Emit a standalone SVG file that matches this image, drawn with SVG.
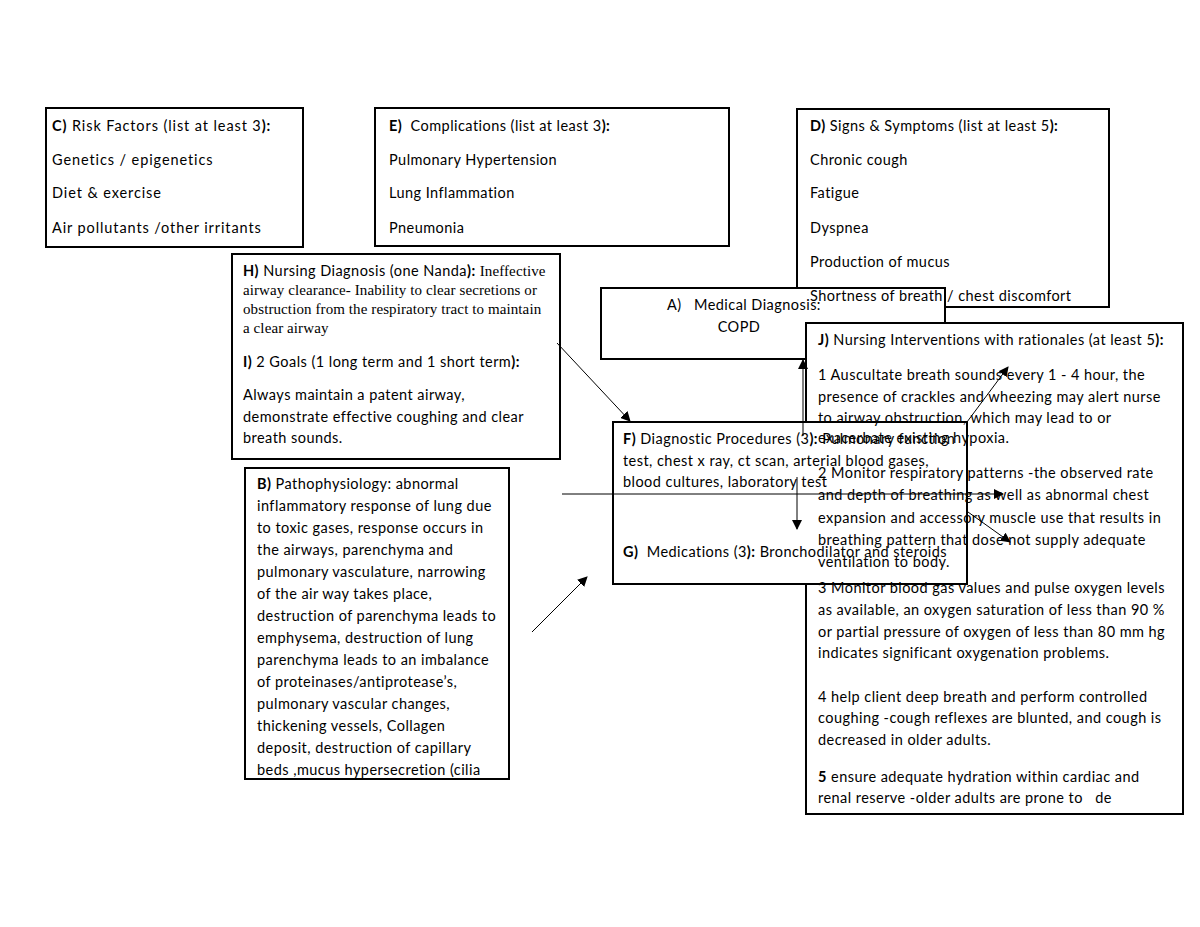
<svg xmlns="http://www.w3.org/2000/svg" width="1200" height="927" viewBox="0 0 1200 927">
<defs>
<style>
.box{fill:#fff;stroke:#000;stroke-width:2}
.t{font-family:Lato,"Liberation Sans",sans-serif;font-size:14.5px;letter-spacing:0.45px;fill:#000}
.w{letter-spacing:0.9px}
.s{font-family:"Liberation Serif",serif;font-size:15px;letter-spacing:0.1px}
.b{font-weight:bold}
.c{stroke:#000;stroke-width:1;fill:none}
</style>
<marker id="ah" viewBox="0 0 10 10" refX="9" refY="5" markerWidth="10" markerHeight="10" markerUnits="userSpaceOnUse" orient="auto">
<path d="M0,0 L10,5 L0,10 z" fill="#000"/>
</marker>
</defs>
<rect width="1200" height="927" fill="#fff"/>

<g id="C">
<rect class="box" x="46" y="108" width="257" height="139"/>
<text class="t w" x="52" y="131"><tspan class="b">C)</tspan> Risk Factors (list at least 3<tspan class="b">):</tspan></text>
<text class="t w" x="52" y="165">Genetics / epigenetics</text>
<text class="t w" x="52" y="198">Diet &amp; exercise</text>
<text class="t w" x="52" y="233">Air pollutants /other irritants</text>
</g>

<g id="E">
<rect class="box" x="375" y="108" width="354" height="138"/>
<text class="t" x="389" y="131"><tspan class="b">E)</tspan>&#160; Complications (list at least 3<tspan class="b">):</tspan></text>
<text class="t" x="389" y="165">Pulmonary Hypertension</text>
<text class="t" x="389" y="198">Lung Inflammation</text>
<text class="t" x="389" y="233">Pneumonia</text>
</g>

<g id="D">
<rect class="box" x="797" y="109" width="312" height="198"/>
</g>

<g id="A">
<rect class="box" x="601" y="288" width="344" height="71"/>
</g>

<g id="J">
<rect class="box" x="806" y="323" width="377" height="491"/>
</g>

<g id="F">
<rect class="box" x="613" y="422" width="354" height="162"/>
</g>

<g id="H">
<rect class="box" x="232" y="254" width="328" height="205"/>
<text class="t" x="243" y="276"><tspan class="b">H)</tspan> Nursing Diagnosis (one Nanda<tspan class="b">):</tspan> <tspan class="s">Ineffective</tspan></text>
<text class="t s" x="243" y="295">airway clearance- Inability to clear secretions or</text>
<text class="t s" x="243" y="314">obstruction from the respiratory tract to maintain</text>
<text class="t s" x="243" y="333">a clear airway</text>
<text class="t" x="243" y="367"><tspan class="b">I)</tspan> 2 Goals (1 long term and 1 short term<tspan class="b">):</tspan></text>
<text class="t" x="243" y="400">Always maintain a patent airway,</text>
<text class="t" x="243" y="422">demonstrate effective coughing and clear</text>
<text class="t" x="243" y="443">breath sounds.</text>
</g>

<g id="B">
<rect class="box" x="245" y="468" width="264" height="311"/>
<text class="t" x="257" y="489"><tspan class="b">B)</tspan> Pathophysiology: abnormal</text>
<text class="t" x="257" y="511">inflammatory response of lung due</text>
<text class="t" x="257" y="533">to toxic gases, response occurs in</text>
<text class="t" x="257" y="555">the airways, parenchyma and</text>
<text class="t" x="257" y="577">pulmonary vasculature, narrowing</text>
<text class="t" x="257" y="599">of the air way takes place,</text>
<text class="t" x="257" y="621">destruction of parenchyma leads to</text>
<text class="t" x="257" y="643">emphysema, destruction of lung</text>
<text class="t" x="257" y="665">parenchyma leads to an imbalance</text>
<text class="t" x="257" y="687">of proteinases/antiprotease’s,</text>
<text class="t" x="257" y="709">pulmonary vascular changes,</text>
<text class="t" x="257" y="731">thickening vessels, Collagen</text>
<text class="t" x="257" y="753">deposit, destruction of capillary</text>
<text class="t" x="257" y="775">beds ,mucus hypersecretion (cilia</text>
</g>

<g id="D-text">
<text class="t" x="810" y="131"><tspan class="b">D)</tspan> Signs &amp; Symptoms (list at least 5<tspan class="b">):</tspan></text>
<text class="t" x="810" y="165">Chronic cough</text>
<text class="t" x="810" y="198">Fatigue</text>
<text class="t" x="810" y="233">Dyspnea</text>
<text class="t" x="810" y="267">Production of mucus</text>
<text class="t" x="810" y="301">Shortness of breath / chest discomfort</text>
</g>

<g id="A-text">
<text class="t" x="667" y="310">A)</text>
<text class="t" x="694" y="310">Medical Diagnosis:</text>
<text class="t" x="739" y="332" text-anchor="middle">COPD</text>
</g>

<g id="J-text">
<text class="t" x="818" y="345"><tspan class="b">J)</tspan> Nursing Interventions with rationales (at least 5<tspan class="b">):</tspan></text>
<text class="t" x="818" y="380">1 Auscultate breath sounds every 1 - 4 hour, the</text>
<text class="t" x="818" y="402">presence of crackles and wheezing may alert nurse</text>
<text class="t" x="818" y="423">to airway obstruction, which may lead to or</text>
<text class="t" x="818" y="443">exacerbate existing hypoxia.</text>
<text class="t" x="818" y="478">2 Monitor respiratory patterns -the observed rate</text>
<text class="t" x="818" y="500">and depth of breathing as well as abnormal chest</text>
<text class="t" x="818" y="523">expansion and accessory muscle use that results in</text>
<text class="t" x="818" y="545">breathing pattern that dose not supply adequate</text>
<text class="t" x="818" y="567">ventilation to body.</text>
<text class="t" x="818" y="593">3 Monitor blood gas values and pulse oxygen levels</text>
<text class="t" x="818" y="615">as available, an oxygen saturation of less than 90 %</text>
<text class="t" x="818" y="637">or partial pressure of oxygen of less than 80 mm hg</text>
<text class="t" x="818" y="658">indicates significant oxygenation problems.</text>
<text class="t" x="818" y="702">4 help client deep breath and perform controlled</text>
<text class="t" x="818" y="723">coughing -cough reflexes are blunted, and cough is</text>
<text class="t" x="818" y="745">decreased in older adults.</text>
<text class="t" x="818" y="782"><tspan class="b">5</tspan> ensure adequate hydration within cardiac and</text>
<text class="t" x="818" y="803">renal reserve -older adults are prone to&#160;&#160; de</text>
</g>

<g id="F-text">
<text class="t" x="623" y="444"><tspan class="b">F)</tspan> Diagnostic Procedures (3<tspan class="b">):</tspan> Pulmonary function</text>
<text class="t" x="623" y="466">test, chest x ray, ct scan, arterial blood gases,</text>
<text class="t" x="623" y="487">blood cultures, laboratory test</text>
<text class="t" x="623" y="557"><tspan class="b">G)</tspan>&#160; Medications (3<tspan class="b">):</tspan> Bronchodilator and steroids</text>
</g>

<g id="connectors">
<line class="c" x1="557" y1="343" x2="630" y2="421" marker-end="url(#ah)"/>
<line class="c" x1="532" y1="632" x2="587" y2="577" marker-end="url(#ah)"/>
<line class="c" x1="562" y1="494" x2="1003" y2="494" marker-end="url(#ah)"/>
<line class="c" x1="803" y1="436" x2="803" y2="360" marker-end="url(#ah)"/>
<line class="c" x1="797" y1="477" x2="797" y2="529" marker-end="url(#ah)"/>
<line class="c" x1="967" y1="422" x2="1008" y2="367" marker-end="url(#ah)"/>
<line class="c" x1="968" y1="512" x2="1010" y2="542" marker-end="url(#ah)"/>
</g>
</svg>
